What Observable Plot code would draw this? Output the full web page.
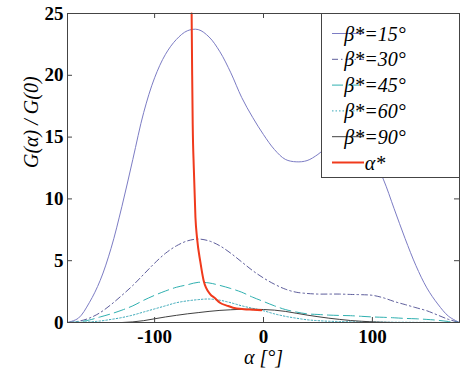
<!DOCTYPE html>
<html>
<head>
<meta charset="utf-8">
<script src="https://cdn.jsdelivr.net/npm/d3@7"></script>
<script src="https://cdn.jsdelivr.net/npm/@observablehq/plot@0.6"></script>
</head>
<body style="margin:0;background:#fff">
<div id="chart"></div>
<script>
// ---- data ----
const alpha = [-180,-170,-160,-150,-140,-130,-120,-110,-100,-90,-80,-70,-60,-50,-40,-30,-20,-10,0,10,20,30,40,50,60,70,80,90,100,110,120,130,140,150,160,170,180];
const beta15 = [0,0.35,1.6,3.4,6.0,9.4,13.2,17.0,19.8,21.7,22.9,23.6,23.7,23.1,21.9,20.2,18.2,16.6,15.2,14.0,13.2,13.0,13.1,13.6,14.3,14.8,15.0,14.6,13.4,11.6,9.2,6.8,4.6,2.8,1.5,0.5,0];
const beta30 = [0,0.1,0.35,0.8,1.45,2.2,3.0,3.9,4.8,5.6,6.2,6.6,6.75,6.6,6.2,5.6,4.9,4.2,3.6,3.1,2.7,2.45,2.35,2.3,2.3,2.3,2.27,2.25,2.2,2.0,1.7,1.45,1.2,0.95,0.6,0.25,0];
const beta45 = [0,0.05,0.2,0.45,0.7,1.0,1.35,1.8,2.2,2.55,2.85,3.05,3.25,3.2,3.0,2.75,2.45,2.05,1.7,1.35,1.05,0.85,0.7,0.65,0.6,0.57,0.55,0.5,0.45,0.42,0.38,0.33,0.3,0.25,0.18,0.08,0];
const beta60 = [0,0.02,0.05,0.12,0.25,0.4,0.6,0.85,1.1,1.35,1.6,1.75,1.85,1.9,1.8,1.6,1.35,1.15,0.95,0.7,0.5,0.35,0.22,0.15,0.1,0.08,0.06,0.05,0.04,0.03,0.02,0.02,0.01,0.01,0,0,0];
const beta90 = [0,0,0,0,0,0,0.05,0.15,0.3,0.45,0.58,0.7,0.8,0.9,0.98,1.03,1.07,1.08,1.05,1.0,0.9,0.75,0.6,0.47,0.35,0.25,0.16,0.1,0.05,0.02,0,0,0,0,0,0,0];
const alphaStarX = [-66,-65.5,-65,-64,-62.5,-61,-58,-55,-49,-45,-40,-33,-28,-18,-10,-2];
const alphaStarY = [25,20,16,12.5,8.5,6.8,4.9,3.4,2.3,2.0,1.6,1.35,1.2,1.08,1.04,1.0];

const xTicks = [-100, 0, 100];
const yTicks = [0, 5, 10, 15, 20, 25];

const seriesNames = ["β*=15°","β*=30°","β*=45°","β*=60°","β*=90°","α*"];
const seriesColors = ["#7c7cc4","#5e5e9c","#2fb0b0","#38a8b8","#404040","#f03a1c"];
const seriesDash = [null,"6 3 1.5 3","11 5","1.5 2",null,null];
const seriesWidth = [1,1,1,1,1,2];

// ---- build tables ----
const betaSeries = [beta15, beta30, beta45, beta60, beta90];
const betaRows = [];
betaSeries.forEach((ys, s) => ys.forEach((v, i) => betaRows.push({s, x: alpha[i], y: v})));
const starRows = alphaStarX.map((x, i) => ({x, y: alphaStarY[i]}));

const FONT = "Liberation Serif";
const W = 474, H = 369, mL = 67, mR = 15, mT = 13, mB = 47;
const pw = W - mL - mR, ph = H - mT - mB;

const lineMarks = betaSeries.map((_, s) =>
  Plot.line(betaRows.filter(d => d.s === s), {
    x: "x", y: "y", curve: "catmull-rom",
    stroke: seriesColors[s], strokeWidth: seriesWidth[s],
    strokeDasharray: seriesDash[s] || undefined
  })
);

const chart = Plot.plot({
  width: W, height: H,
  marginLeft: mL, marginRight: mR, marginTop: mT, marginBottom: mB,
  x: {domain: [-180, 180]},
  y: {domain: [0, 25]},
  style: {fontFamily: FONT},
  marks: [
    ...lineMarks,
    Plot.line(starRows, {x: "x", y: "y", curve: "monotone-x", stroke: seriesColors[5], strokeWidth: 2}),
    // inward ticks (MATLAB style)
    Plot.ruleY(yTicks, {stroke: "#444", insetRight: pw - 5}),
    Plot.ruleY(yTicks, {stroke: "#444", insetLeft: pw - 5}),
    Plot.ruleX(xTicks, {stroke: "#444", insetTop: ph - 5}),
    Plot.ruleX(xTicks, {stroke: "#444", insetBottom: ph - 5}),
    Plot.frame({stroke: "#444"}),
    Plot.axisX({ticks: xTicks, tickSize: 0, tickPadding: 7, fontSize: 19, fontWeight: "bold", fontFamily: FONT, label: null, tickFormat: d => String(d)}),
    Plot.axisY({ticks: yTicks, tickSize: 0, tickPadding: 4, fontSize: 19, fontWeight: "bold", fontFamily: FONT, label: null}),
    Plot.text(["α [°]"], {frameAnchor: "bottom", dy: 35, text: d => d, fontSize: 20, fontStyle: "italic", fontFamily: FONT, lineAnchor: "middle", fill: "#000"}),
    Plot.text(["G(α) / G(0)"], {frameAnchor: "left", dx: -36, rotate: -90, text: d => d, fontSize: 20, fontStyle: "italic", fontFamily: FONT, lineAnchor: "middle", fill: "#000"})
  ]
});

// ---- legend inside the plot (top-right) ----
const svg = d3.select(chart);
const lg = svg.append("g").attr("font-family", FONT);
const lx = 321, ly = mT, lw = W - mR - lx, lh = 164;
lg.append("rect").attr("x", lx + 0.5).attr("y", ly + 0.5).attr("width", lw).attr("height", lh)
  .attr("fill", "#fff").attr("stroke", "#444");
seriesNames.forEach((name, i) => {
  const yy = ly + 20.5 + i * 25.8;
  lg.append("line").attr("x1", 332).attr("x2", 364).attr("y1", yy).attr("y2", yy)
    .attr("stroke", seriesColors[i]).attr("stroke-width", i === 5 ? 2 : 1)
    .attr("stroke-dasharray", seriesDash[i]);
  lg.append("text").attr("x", 375).attr("y", yy).attr("dy", "0.35em")
    .attr("font-size", 20).attr("font-style", "italic").attr("fill", "#000")
    .attr("font-family", FONT)
    .text(name);
});

document.getElementById("chart").appendChild(chart);
</script>
</body>
</html>
